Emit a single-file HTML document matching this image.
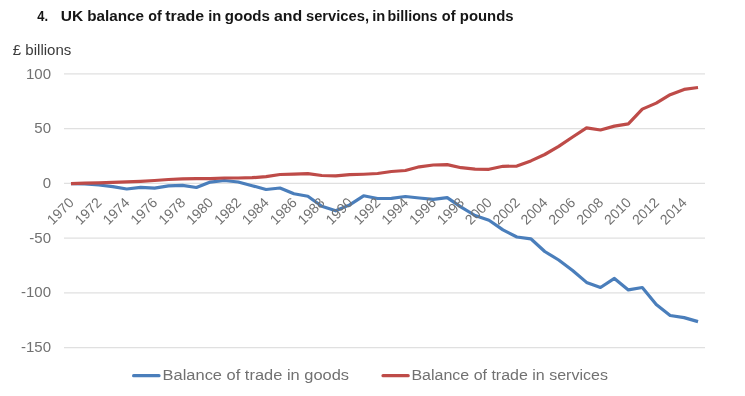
<!DOCTYPE html>
<html><head><meta charset="utf-8"><style>
html,body{margin:0;padding:0;background:#fff;}
body{width:745px;height:396px;overflow:hidden;}
svg{display:block;will-change:transform;}
text{font-family:"Liberation Sans",sans-serif;}
.title{font-weight:bold;font-size:14px;fill:#161616;}
.unit{font-size:14.5px;fill:#3a3a3a;}
.yl{font-size:15px;fill:#717171;}
.xl{font-size:14px;fill:#717171;}
.lg{font-size:14.7px;fill:#717171;}
</style></head><body>
<svg width="745" height="396" viewBox="0 0 745 396">
<text class="title" x="37.27" y="21.3" textLength="10.80" lengthAdjust="spacingAndGlyphs">4.</text>
<text class="title" x="60.77" y="21.3" textLength="22.39" lengthAdjust="spacingAndGlyphs">UK</text>
<text class="title" x="87.21" y="21.3" textLength="56.71" lengthAdjust="spacingAndGlyphs">balance</text>
<text class="title" x="148.29" y="21.3" textLength="13.48" lengthAdjust="spacingAndGlyphs">of</text>
<text class="title" x="165.22" y="21.3" textLength="38.83" lengthAdjust="spacingAndGlyphs">trade</text>
<text class="title" x="208.15" y="21.3" textLength="13.05" lengthAdjust="spacingAndGlyphs">in</text>
<text class="title" x="224.76" y="21.3" textLength="45.18" lengthAdjust="spacingAndGlyphs">goods</text>
<text class="title" x="274.03" y="21.3" textLength="28.28" lengthAdjust="spacingAndGlyphs">and</text>
<text class="title" x="305.97" y="21.3" textLength="63.03" lengthAdjust="spacingAndGlyphs">services,</text>
<text class="title" x="372.15" y="21.3" textLength="13.05" lengthAdjust="spacingAndGlyphs">in</text>
<text class="title" x="387.58" y="21.3" textLength="49.93" lengthAdjust="spacingAndGlyphs">billions</text>
<text class="title" x="441.88" y="21.3" textLength="13.69" lengthAdjust="spacingAndGlyphs">of</text>
<text class="title" x="459.84" y="21.3" textLength="53.64" lengthAdjust="spacingAndGlyphs">pounds</text>
<text class="unit" x="12.8" y="54.9" textLength="58.5" lengthAdjust="spacingAndGlyphs">£ billions</text>
<line x1="64.0" y1="73.9" x2="705.0" y2="73.9" stroke="#e0e0e0" stroke-width="1.3"/>
<line x1="64.0" y1="128.7" x2="705.0" y2="128.7" stroke="#e0e0e0" stroke-width="1.3"/>
<line x1="64.0" y1="183.4" x2="705.0" y2="183.4" stroke="#e0e0e0" stroke-width="1.3"/>
<line x1="64.0" y1="238.1" x2="705.0" y2="238.1" stroke="#e0e0e0" stroke-width="1.3"/>
<line x1="64.0" y1="292.8" x2="705.0" y2="292.8" stroke="#e0e0e0" stroke-width="1.3"/>
<line x1="64.0" y1="347.6" x2="705.0" y2="347.6" stroke="#e0e0e0" stroke-width="1.3"/>
<text x="51" y="78.6" text-anchor="end" class="yl">100</text>
<text x="51" y="133.3" text-anchor="end" class="yl">50</text>
<text x="51" y="187.9" text-anchor="end" class="yl">0</text>
<text x="51" y="242.7" text-anchor="end" class="yl">-50</text>
<text x="51" y="297.4" text-anchor="end" class="yl">-100</text>
<text x="51" y="352.2" text-anchor="end" class="yl">-150</text>
<polyline points="70.97,183.60 84.90,183.90 98.84,185.00 112.77,186.60 126.71,189.00 140.64,187.30 154.58,188.10 168.51,185.90 182.45,185.40 196.38,187.50 210.32,182.10 224.25,180.50 238.18,182.00 252.12,185.70 266.05,189.50 279.99,188.00 293.92,193.80 307.86,196.30 321.79,206.30 335.73,210.80 349.66,204.90 363.60,195.80 377.53,198.50 391.47,198.30 405.40,196.50 419.34,198.00 433.27,199.40 447.21,197.60 461.14,207.10 475.08,215.50 489.01,220.20 502.95,229.90 516.88,237.00 530.82,238.80 544.75,251.50 558.68,260.00 572.62,270.50 586.55,282.40 600.49,287.50 614.42,278.40 628.36,289.90 642.29,287.50 656.23,304.60 670.16,315.50 684.10,317.60 698.03,321.60" fill="none" stroke="#4a7ebb" stroke-width="3.2" stroke-linejoin="round" stroke-linecap="butt"/>
<polyline points="70.97,183.60 84.90,183.20 98.84,182.90 112.77,182.30 126.71,181.80 140.64,181.30 154.58,180.50 168.51,179.50 182.45,178.90 196.38,178.60 210.32,178.70 224.25,178.00 238.18,178.00 252.12,177.70 266.05,176.60 279.99,174.50 293.92,174.10 307.86,173.70 321.79,175.50 335.73,175.80 349.66,174.70 363.60,174.25 377.53,173.50 391.47,171.50 405.40,170.50 419.34,166.80 433.27,165.00 447.21,164.60 461.14,167.70 475.08,169.10 489.01,169.30 502.95,166.30 516.88,166.10 530.82,160.90 544.75,154.50 558.68,146.30 572.62,137.00 586.55,127.80 600.49,130.00 614.42,126.10 628.36,123.80 642.29,109.10 656.23,103.10 670.16,94.70 684.10,89.40 698.03,87.50" fill="none" stroke="#be4b48" stroke-width="3.2" stroke-linejoin="round" stroke-linecap="butt"/>
<text class="xl" text-anchor="end" transform="translate(68.37,197) rotate(-45)" x="0" y="9">1970</text>
<text class="xl" text-anchor="end" transform="translate(96.24,197) rotate(-45)" x="0" y="9">1972</text>
<text class="xl" text-anchor="end" transform="translate(124.11,197) rotate(-45)" x="0" y="9">1974</text>
<text class="xl" text-anchor="end" transform="translate(151.98,197) rotate(-45)" x="0" y="9">1976</text>
<text class="xl" text-anchor="end" transform="translate(179.85,197) rotate(-45)" x="0" y="9">1978</text>
<text class="xl" text-anchor="end" transform="translate(207.72,197) rotate(-45)" x="0" y="9">1980</text>
<text class="xl" text-anchor="end" transform="translate(235.58,197) rotate(-45)" x="0" y="9">1982</text>
<text class="xl" text-anchor="end" transform="translate(263.45,197) rotate(-45)" x="0" y="9">1984</text>
<text class="xl" text-anchor="end" transform="translate(291.32,197) rotate(-45)" x="0" y="9">1986</text>
<text class="xl" text-anchor="end" transform="translate(319.19,197) rotate(-45)" x="0" y="9">1988</text>
<text class="xl" text-anchor="end" transform="translate(347.06,197) rotate(-45)" x="0" y="9">1990</text>
<text class="xl" text-anchor="end" transform="translate(374.93,197) rotate(-45)" x="0" y="9">1992</text>
<text class="xl" text-anchor="end" transform="translate(402.80,197) rotate(-45)" x="0" y="9">1994</text>
<text class="xl" text-anchor="end" transform="translate(430.67,197) rotate(-45)" x="0" y="9">1996</text>
<text class="xl" text-anchor="end" transform="translate(458.54,197) rotate(-45)" x="0" y="9">1998</text>
<text class="xl" text-anchor="end" transform="translate(486.41,197) rotate(-45)" x="0" y="9">2000</text>
<text class="xl" text-anchor="end" transform="translate(514.28,197) rotate(-45)" x="0" y="9">2002</text>
<text class="xl" text-anchor="end" transform="translate(542.15,197) rotate(-45)" x="0" y="9">2004</text>
<text class="xl" text-anchor="end" transform="translate(570.02,197) rotate(-45)" x="0" y="9">2006</text>
<text class="xl" text-anchor="end" transform="translate(597.89,197) rotate(-45)" x="0" y="9">2008</text>
<text class="xl" text-anchor="end" transform="translate(625.76,197) rotate(-45)" x="0" y="9">2010</text>
<text class="xl" text-anchor="end" transform="translate(653.63,197) rotate(-45)" x="0" y="9">2012</text>
<text class="xl" text-anchor="end" transform="translate(681.50,197) rotate(-45)" x="0" y="9">2014</text>
<line x1="133.6" y1="375.7" x2="159.0" y2="375.7" stroke="#4a7ebb" stroke-width="3.2" stroke-linecap="round"/>
<text class="lg" x="162.6" y="380.4" textLength="186.5" lengthAdjust="spacingAndGlyphs">Balance of trade in goods</text>
<line x1="383.0" y1="375.7" x2="408.2" y2="375.7" stroke="#be4b48" stroke-width="3.2" stroke-linecap="round"/>
<text class="lg" x="411.4" y="380.4" textLength="196.5" lengthAdjust="spacingAndGlyphs">Balance of trade in services</text>
</svg>
</body></html>
